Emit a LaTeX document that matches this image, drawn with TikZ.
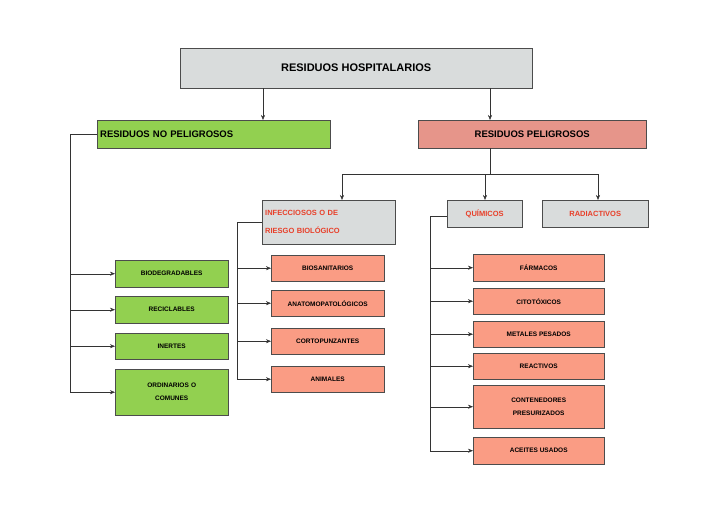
\documentclass[tikz,border=0pt]{standalone}
\usepackage{fontspec}
\setmainfont{Liberation Sans}
\usetikzlibrary{arrows.meta}
\definecolor{boxgray}{HTML}{D9DCDC}
\definecolor{boxgreen}{HTML}{92D050}
\definecolor{boxsalmon}{HTML}{E6958A}
\definecolor{boxorange}{HTML}{FA9C84}
\definecolor{txtred}{HTML}{E8402A}
\tikzset{
  box/.style={draw=black!70,anchor=north west,inner sep=2pt,font=\bfseries},
  sbox/.style={box,font=\bfseries\fontsize{6.5}{13}\selectfont,align=center},
  arr/.style={-{Stealth[length=5pt,width=4pt]},black!80},
  ln/.style={black!80}
}
\begin{document}
\begin{tikzpicture}[x=1pt,y=-1pt]
    \useasboundingbox (0,0) rectangle (728,515);
    % Top levels
    \node[box,fill=boxgray,minimum width=352pt,minimum height=40pt,font=\bfseries\fontsize{11}{13}\selectfont] (hosp) at (180,48) {RESIDUOS HOSPITALARIOS};
    \node[box,fill=boxgreen,minimum width=233pt,minimum height=28pt,text width=227pt,font=\bfseries\fontsize{9.5}{11}\selectfont] (nop) at (97,120) {RESIDUOS NO PELIGROSOS};
    \node[box,fill=boxsalmon,minimum width=228pt,minimum height=28pt,font=\bfseries\fontsize{9.5}{11}\selectfont] (pel) at (418,120) {RESIDUOS PELIGROSOS};
    \draw[arr] (263,88) -- (263,120);
    \draw[arr] (490,88) -- (490,120);
    % Hazardous groups
    \node[box,fill=boxgray,minimum width=133pt,minimum height=44pt,text width=127pt,align=left,text=txtred,font=\bfseries\fontsize{7.5}{18}\selectfont] (inf) at (262,200) {INFECCIOSOS O DE\\RIESGO BIOLÓGICO};
    \node[box,fill=boxgray,minimum width=75pt,minimum height=27pt,text=txtred,font=\bfseries\fontsize{7.5}{9}\selectfont] (qui) at (447,200) {QUÍMICOS};
    \node[box,fill=boxgray,minimum width=106pt,minimum height=27pt,text=txtred,font=\bfseries\fontsize{7.5}{9}\selectfont] (rad) at (542,200) {RADIACTIVOS};
    \coordinate (split) at (490,174);
    \draw[ln] (pel.south -| split) -- (split);
    \draw[ln] (342,174) -- (598,174);
    \draw[arr] (342,174) -- (inf.north -| 342,0);
    \draw[arr] (485,174) -- (qui.north -| 485,0);
    \draw[arr] (598,174) -- (rad.north -| 598,0);
    % Non hazardous
    \foreach \name/\y/\h/\txt in {bio/260/27/BIODEGRADABLES,rec/296/27/RECICLABLES,ine/333/26/INERTES,ord/369/46/{ORDINARIOS O\\COMUNES}} {
      \node[sbox,fill=boxgreen,minimum width=113pt,minimum height=\h pt,text width=100pt] (\name) at (115,\y) {\txt};
      \draw[arr] (70,0 |- \name.west) -- (\name.west);
    }
    \draw[ln] (nop.west) -- (70,0 |- nop.west) -- (70,0 |- ord.west);
    % Infectious
    \foreach \name/\y/\txt in {bsa/255/BIOSANITARIOS,ana/290/ANATOMOPATOLÓGICOS,cor/328/CORTOPUNZANTES,ani/366/ANIMALES} {
      \node[sbox,fill=boxorange,minimum width=113pt,minimum height=26pt] (\name) at (271,\y) {\txt};
      \draw[arr] (237,0 |- \name.west) -- (\name.west);
    }
    \draw[ln] (inf.west |- 0,222) -- (237,222) -- (237,0 |- ani.west);
    % Chemical
    \foreach \name/\y/\h/\txt in {far/254/27/FÁRMACOS,cit/288/26/CITOTÓXICOS,met/321/26/METALES PESADOS,rea/353/26/REACTIVOS,con/385/43/{CONTENEDORES\\PRESURIZADOS},ace/437/27/ACEITES USADOS} {
      \node[sbox,fill=boxorange,minimum width=131pt,minimum height=\h pt] (\name) at (473,\y) {\txt};
      \draw[arr] (430,0 |- \name.west) -- (\name.west);
    }
    \draw[ln] (qui.west |- 0,216) -- (430,216) -- (430,0 |- ace.west);
\end{tikzpicture}
\end{document}
